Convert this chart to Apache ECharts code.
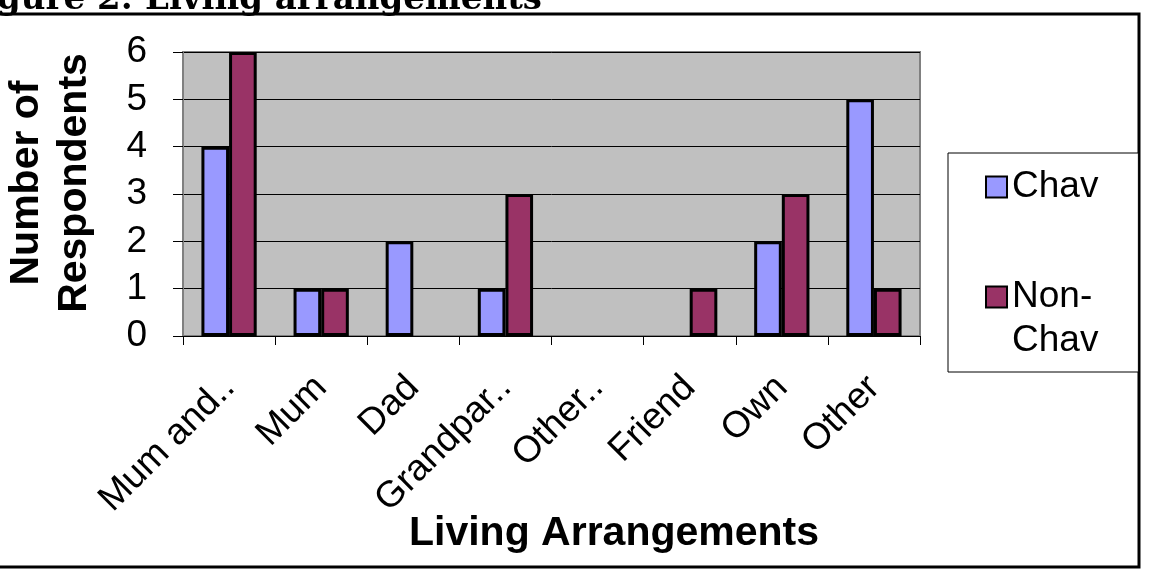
<!DOCTYPE html>
<html>
<head>
<meta charset="utf-8">
<script src="https://cdn.jsdelivr.net/npm/echarts@6/dist/echarts.min.js"></script>
<style>
  html, body { margin: 0; padding: 0; background: #fff; }
  #panel { width: 1164px; height: 577px; }
</style>
</head>
<body>
<div id="panel"></div>
<script>
// values
var categories = ['Mum and..', 'Mum', 'Dad', 'Grandpar..', 'Other..', 'Friend', 'Own', 'Other'];
var chav = [4, 1, 2, 1, 0, 0, 2, 5];
var nonChav = [6, 1, 0, 3, 0, 1, 3, 1];
var yTicks = [0, 1, 2, 3, 4, 5, 6];

var font = 'Liberation Sans, Arial, sans-serif';

// empty cells are left blank, not drawn as flat bars
function blankZeros(arr) {
    return arr.map(function (v) { return v === 0 ? '-' : v; });
}

var myChart = echarts.init(document.getElementById('panel'));

var options = {
    backgroundColor: '#ffffff',
    animation: false,
    title: {
        text: 'Figure 2: Living arrangements',
        left: -45,
        top: -22,
        textStyle: { fontFamily: 'DejaVu Serif, serif', fontWeight: 'bold', fontSize: 34, color: '#000' }
    },
    graphic: [{
        type: 'rect',
        shape: { x: -5, y: 14, width: 1144, height: 553 },
        style: { fill: 'none', stroke: '#000', lineWidth: 3 },
        silent: true
    }],
    legend: {
        orient: 'vertical',
        left: 948,
        top: 153,
        padding: [12, 40, 9, 37],
        itemGap: 22,
        itemWidth: 21,
        itemHeight: 21,
        icon: 'rect',
        borderColor: '#000',
        borderWidth: 1,
        backgroundColor: '#fff',
        textStyle: { fontFamily: font, fontSize: 37, color: '#000', lineHeight: 44 },
        // blank first line keeps the swatch level with "Non-"
        formatter: function (name) { return name === 'Non-Chav' ? ' \nNon-\nChav' : name; },
        data: ['Chav', 'Non-Chav']
    },
    grid: {
        left: 183,
        top: 52,
        width: 737,
        height: 284,
        outerBoundsMode: 'none',
        containLabel: false,
        show: true,
        backgroundColor: '#c0c0c0',
        borderColor: '#808080',
        borderWidth: 2
    },
    xAxis: {
        type: 'category',
        data: categories,
        name: 'Living Arrangements',
        nameLocation: 'middle',
        nameGap: 177,
        nameMoveOverlap: false,
        nameTextStyle: {
            fontFamily: font, fontWeight: 'bold', fontSize: 41, color: '#000',
            lineHeight: 41, padding: [0, 0, 0, 125]
        },
        axisLine: { lineStyle: { color: '#000', width: 1 } },
        axisTick: { show: true, length: 9, lineStyle: { color: '#000' } },
        axisLabel: {
            rotate: 45, margin: 46, interval: 0, padding: [87, 0, 0, 0],
            fontFamily: font, fontSize: 37, color: '#000'
        }
    },
    yAxis: {
        type: 'value',
        min: yTicks[0],
        max: yTicks[yTicks.length - 1],
        interval: 1,
        name: 'Number of\nRespondents',
        nameLocation: 'middle',
        nameGap: 84,
        nameRotate: 90,
        nameTextStyle: {
            fontFamily: font, fontWeight: 'bold', fontSize: 41, color: '#000',
            lineHeight: 48, padding: [0, 0, 0, 22]
        },
        axisLine: { show: true, lineStyle: { color: '#808080', width: 2 } },
        axisTick: { show: true, length: 10, lineStyle: { color: '#000' } },
        axisLabel: { margin: 36, fontFamily: font, fontSize: 37, color: '#000' },
        splitLine: { show: true, lineStyle: { color: '#000', width: 1 } }
    },
    series: [{
        name: 'Chav',
        type: 'bar',
        data: blankZeros(chav),
        barGap: '0%',
        barCategoryGap: '40%',
        itemStyle: { color: '#9999ff', borderColor: '#000', borderWidth: 3 }
    }, {
        name: 'Non-Chav',
        type: 'bar',
        data: blankZeros(nonChav),
        itemStyle: { color: '#993366', borderColor: '#000', borderWidth: 3 }
    }]
};

myChart.setOption(options);
</script>
</body>
</html>
